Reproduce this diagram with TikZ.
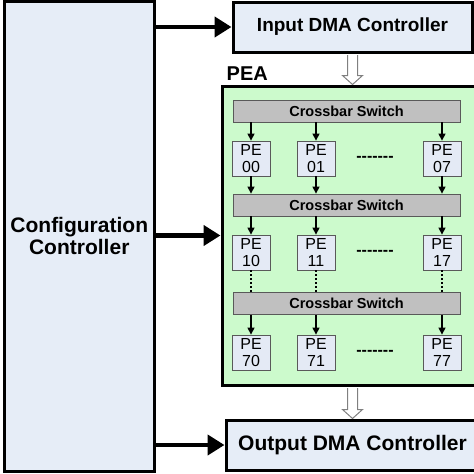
\documentclass[tikz,border=0pt]{standalone}
\usepackage{fontspec}
\setmainfont{Liberation Sans}
\usetikzlibrary{arrows.meta,positioning,calc}
\definecolor{ctrlblue}{RGB}{230,237,247}
\definecolor{peblue}{RGB}{228,234,245}
\definecolor{peagreen}{RGB}{204,250,204}
\definecolor{xbargray}{RGB}{192,192,192}
\definecolor{arrgray}{RGB}{128,128,128}

% open arrow from #1 (start) down to #2 (tip)
\newcommand{\hollowarrow}[2]{%
  \filldraw[hollow] ($(#1)+(-5,1.5)$) -- ($(#2)+(-5,-9)$) -- ($(#2)+(-10,-9)$) -- (#2)
    -- ($(#2)+(10,-9)$) -- ($(#2)+(5,-9)$) -- ($(#1)+(5,1.5)$);}

\begin{document}
\begin{tikzpicture}[x=1pt, y=-1pt,
    ctrlbox/.style={draw, line width=3pt, fill=ctrlblue, align=center, inner sep=0pt,
      font=\bfseries\fontsize{21}{22.3}\selectfont},
    peabox/.style={draw, line width=3pt, fill=peagreen, inner sep=0pt},
    peatitle/.style={font=\bfseries\fontsize{20}{24}\selectfont, inner sep=0pt},
    xbar/.style={draw=black!65, line width=0.8pt, fill=xbargray, minimum width=227pt,
      minimum height=22pt, inner sep=0pt, font=\bfseries\fontsize{14.5}{16}\selectfont},
    pebox/.style={draw=black!65, line width=0.8pt, fill=peblue, minimum width=38pt,
      minimum height=35pt, inner sep=0pt, align=center, font=\fontsize{16}{16.5}\selectfont},
    dashtext/.style={font=\bfseries\fontsize{16}{18}\selectfont, inner sep=0pt},
    bigarrow/.style={line width=4.5pt, line cap=round, -{Triangle[length=17pt,width=20pt]}},
    pearrow/.style={line width=1.2pt, -{Triangle[length=7pt,width=7pt]}},
    dotline/.style={line width=2pt, dash pattern=on 2pt off 2pt},
    hollow/.style={draw=arrgray, fill=white, line width=1pt, line join=miter}]
  \useasboundingbox (0,0) rectangle (474,474);
  \clip (0,0) rectangle (474,474);

  % Configuration controller
  \node[ctrlbox, minimum width=149.5pt, minimum height=469.5pt] (cfg) at (79.25,236.25) {Configuration\\Controller};

  % DMA controllers
  \node[ctrlbox, minimum width=239pt, minimum height=50pt,
    font=\bfseries\fontsize{19}{22}\selectfont] (idma) at (352.5,27) {Input DMA Controller};
  \node[ctrlbox, minimum width=253pt, minimum height=50pt] (odma) at (352.5,445) {Output DMA Controller};

  % PEA
  \node[peabox, minimum width=256pt, minimum height=299pt] (pea) at (350,235.5) {};
  \node[peatitle, anchor=base west] (pealbl) at (226.5,80) {PEA};

  % Crossbar switches
  \foreach \n/\y in {1/111,2/205,3/303.5}
    \node[xbar] (xb\n) at (346.5,\y) {Crossbar Switch};

  % PE rows
  \foreach \r/\y in {0/158.5,1/252.5,7/352.5} {
    \foreach \c/\x in {0/251,1/316,7/442}
      \node[pebox] (pe\r\c) at (\x,\y) {PE\\\r\c};
    \node[dashtext] (dots\r) at (375,\y) {-{}-{}-{}-{}-{}-{}-};
  }

  % PE links
  \foreach \c in {0,1,7} {
    \draw[pearrow] (xb1.south -| pe0\c) -- (pe0\c.north);
    \draw[pearrow] (pe0\c.south) -- (xb2.north -| pe0\c);
    \draw[pearrow] (xb2.south -| pe1\c) -- (pe1\c.north);
    \draw[dotline] (pe1\c.south) -- (xb3.north -| pe1\c);
    \draw[pearrow] (xb3.south -| pe7\c) -- (pe7\c.north);
  }

  % Control arrows
  \draw[bigarrow] (cfg.east |- idma.west) -- (idma.west);
  \draw[bigarrow] (cfg.east |- pea.west) -- (pea.west);
  \draw[bigarrow] (cfg.east |- odma.west) -- (odma.west);

  % Data arrows
  \coordinate (inTip) at (idma.south |- pea.north);
  \coordinate (outTop) at (odma.north |- pea.south);
  \hollowarrow{idma.south}{inTip}
  \hollowarrow{outTop}{odma.north}
\end{tikzpicture}
\end{document}
